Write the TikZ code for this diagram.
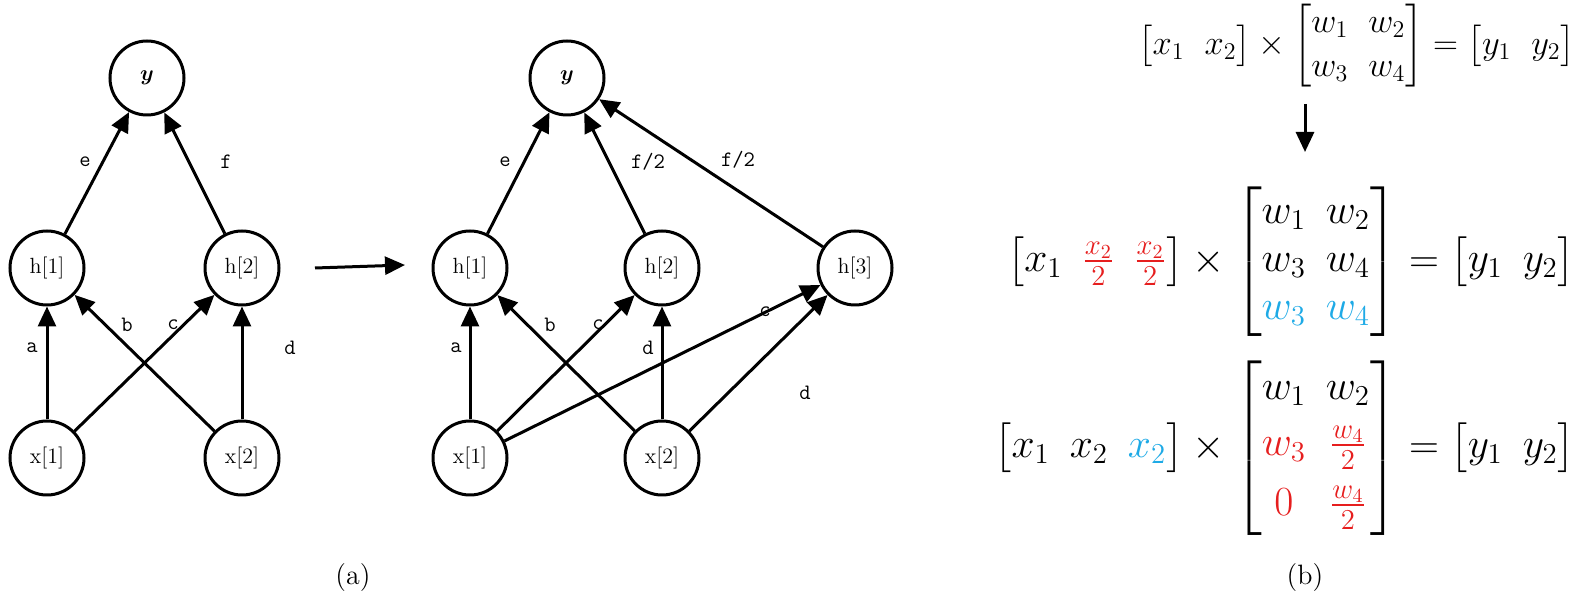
\documentclass[tikz,border=0pt]{standalone}
\usepackage{amsmath,bm}
\usetikzlibrary{arrows.meta}
\definecolor{myred}{RGB}{230,30,30}
\definecolor{myblue}{RGB}{30,170,230}
\begin{document}
\begin{tikzpicture}[x=0.5pt,y=-0.5pt,
  neuron/.style={circle,draw,line width=1.5pt,minimum size=37pt,inner sep=0pt,font=\fontsize{11}{13}\selectfont},
  conn/.style={line width=1.5pt,-{Triangle[length=10pt,width=9pt]}},
  wlab/.style={font=\ttfamily\fontsize{11}{13}\selectfont},
  eqn/.style={font=\fontsize{20}{24}\selectfont}]
\useasboundingbox (0,0) rectangle (1585,608);
% left graph
\node[neuron] (ly) at (147,78) {$\bm{y}$};
\node[neuron] (lh1) at (47,268) {h[1]};
\node[neuron] (lh2) at (242,268) {h[2]};
\node[neuron] (lx1) at (47,458) {x[1]};
\node[neuron] (lx2) at (242,458) {x[2]};
\draw[conn] (lh1) -- (ly);
\draw[conn] (lh2) -- (ly);
\draw[conn] (lx1) -- (lh1);
\draw[conn] (lx2) -- (lh1);
\draw[conn] (lx1) -- (lh2);
\draw[conn] (lx2) -- (lh2);
\node[wlab] (le) at (85,162) {e};
\node[wlab] (lf) at (226,162) {f};
\node[wlab] (la) at (32,348) {a};
\node[wlab] (lb) at (127,325) {b};
\node[wlab] (lc) at (173,325) {c};
\node[wlab] (ld) at (290,348) {d};
% arrow
\coordinate (ma) at (315,268);
\coordinate (mb) at (405,265);
\draw[conn] (ma) -- (mb);
% right graph
\node[neuron] (ry) at (567,78) {$\bm{y}$};
\node[neuron] (rh1) at (470,268) {h[1]};
\node[neuron] (rh2) at (662,268) {h[2]};
\node[neuron] (rh3) at (855,268) {h[3]};
\node[neuron] (rx1) at (470,458) {x[1]};
\node[neuron] (rx2) at (662,458) {x[2]};
\draw[conn] (rh1) -- (ry);
\draw[conn] (rh2) -- (ry);
\draw[conn] (rh3) -- (ry);
\draw[conn] (rx1) -- (rh1);
\draw[conn] (rx2) -- (rh1);
\draw[conn] (rx1) -- (rh2);
\draw[conn] (rx2) -- (rh2);
\draw[conn] (rx1) -- (rh3);
\draw[conn] (rx2) -- (rh3);
\node[wlab] (re) at (505,162) {e};
\node[wlab] (rf1) at (648,162) {f/2};
\node[wlab] (rf2) at (738,160) {f/2};
\node[wlab] (ra) at (456,348) {a};
\node[wlab] (rb) at (550,325) {b};
\node[wlab] (rc) at (598,325) {c};
\node[wlab] (rd) at (648,348) {d};
\node[wlab] (rc2) at (765,312) {c};
\node[wlab] (rd2) at (805,393) {d};
% captions
\node[font=\fontsize{14}{16}\selectfont] (capa) at (353,578) {(a)};
\node[font=\fontsize{14}{16}\selectfont] (capb) at (1305,578) {(b)};
% equations
\node[eqn,anchor=east,font=\fontsize{18}{22}\selectfont] (eq1) at (1582,46) {$\begin{bmatrix}x_1 & x_2\end{bmatrix}\times\begin{bmatrix}w_1 & w_2\\ w_3 & w_4\end{bmatrix} = \begin{bmatrix}y_1 & y_2\end{bmatrix}$};
\coordinate (da) at (1305,104);
\coordinate (db) at (1305,152);
\draw[conn] (da) -- (db);
\node[eqn,anchor=east] (eq2) at (1582,262) {$\begin{bmatrix}x_1 & \textcolor{myred}{\frac{x_2}{2}} & \textcolor{myred}{\frac{x_2}{2}}\end{bmatrix}\times\begin{bmatrix}w_1 & w_2\\ w_3 & w_4\\ \textcolor{myblue}{w_3} & \textcolor{myblue}{w_4}\end{bmatrix} = \begin{bmatrix}y_1 & y_2\end{bmatrix}$};
\node[eqn,anchor=east] (eq3) at (1582,448) {$\begin{bmatrix}x_1 & x_2 & \textcolor{myblue}{x_2}\end{bmatrix}\times\begin{bmatrix}w_1 & w_2\\[4pt] \textcolor{myred}{w_3} & \textcolor{myred}{\frac{w_4}{2}}\\[6pt] \textcolor{myred}{0} & \textcolor{myred}{\frac{w_4}{2}}\end{bmatrix} = \begin{bmatrix}y_1 & y_2\end{bmatrix}$};
\end{tikzpicture}
\end{document}
